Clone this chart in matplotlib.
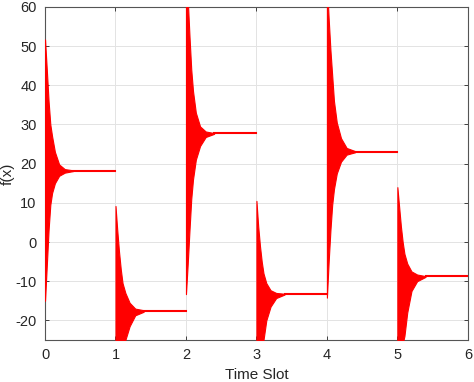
import numpy as np
import matplotlib.pyplot as plt

# time slots and the level each slot settles to
slot_start = [0, 1, 2, 3, 4, 5]
steady = [18.2, -17.6, 27.7, -13.3, 23.0, -8.8]

# offsets inside a slot where the oscillation envelope was read
offsets = [0, 0.025, 0.05, 0.075, 0.1, 0.14, 0.2, 0.28, 0.4]

# upper / lower envelope of the decaying oscillation
upper = [
    [51.7, 44.0, 36.0, 30.0, 27.0, 23.0, 19.8, 18.6, 18.3],
    [9.2, 3.0, -2.5, -7.0, -10.5, -13.0, -15.5, -17.0, -17.4],
    [69.0, 62.0, 52.5, 44.0, 38.5, 33.0, 29.5, 28.2, 27.8],
    [10.5, 4.0, -1.0, -5.0, -8.0, -10.5, -12.3, -13.0, -13.2],
    [66.0, 57.0, 49.0, 42.5, 36.0, 30.5, 26.5, 24.0, 23.2],
    [14.0, 9.0, 4.0, 0.0, -3.0, -5.5, -7.5, -8.3, -8.7],
]
lower = [
    [-15.0, -6.0, 3.0, 9.5, 12.5, 15.0, 16.9, 17.7, 18.1],
    [-44.0, -38.0, -33.0, -29.5, -27.0, -25.0, -21.5, -18.7, -17.8],
    [-13.3, -5.5, 3.0, 11.0, 16.0, 21.0, 24.5, 26.8, 27.6],
    [-40.0, -34.0, -30.0, -27.5, -25.0, -20.0, -16.5, -14.3, -13.4],
    [-14.2, -5.0, 3.0, 9.5, 13.5, 17.5, 20.5, 22.3, 22.9],
    [-35.0, -31.0, -28.0, -26.0, -24.0, -18.0, -12.5, -10.0, -8.9],
]

plt.rcParams['font.family'] = ['Liberation Sans', 'DejaVu Sans']
plt.rcParams['axes.unicode_minus'] = False
fig = plt.figure(figsize=(4.74, 3.82), dpi=100)
ax = fig.add_axes([0.095, 0.110, 0.892, 0.872])

for k in range(len(slot_start)):
    t = np.array(offsets) + slot_start[k]
    ax.fill_between(t, lower[k], upper[k], color='#ff0000', lw=0.8, zorder=3)
    ax.plot([t[-1], slot_start[k] + 1], [steady[k], steady[k]], color='#ff0000', lw=1.5, zorder=3)

ax.set_xlim(0, 6)
ax.set_ylim(-25, 60)
ax.set_xticks(range(0, 7))
ax.set_yticks(range(-20, 61, 10))
ax.grid(True, color='#e3e3e3', lw=0.7)
ax.set_axisbelow(True)
ax.tick_params(direction='in', top=True, right=True, length=3, width=0.6,
               colors='#262626', labelsize=10.5, pad=6)
for s in ax.spines.values():
    s.set_color('#555555')
    s.set_linewidth(0.8)
ax.set_xlabel('Time Slot', fontsize=11, color='#262626', labelpad=4)
ax.set_ylabel('f(x)', fontsize=11, color='#262626')
ax.yaxis.set_label_coords(-0.072, 0.5)

fig.savefig('out.png', dpi=100)
